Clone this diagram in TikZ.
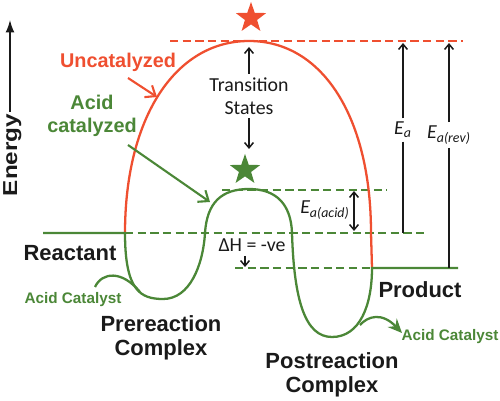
\documentclass[tikz,border=0pt]{standalone}
\usepackage{fontspec}
\usepackage{tikz}
\usetikzlibrary{shapes.geometric,arrows.meta}
\setmainfont{Carlito}
\newfontfamily\labelfont{Liberation Sans}
\newfontfamily\axisfont[FakeStretch=1.2]{Liberation Sans}
\definecolor{ucred}{HTML}{EF4F30}
\definecolor{acgreen}{HTML}{4B8737}
\definecolor{txtblack}{HTML}{1A1A1A}

\begin{document}
\begin{tikzpicture}[x=0.02cm,y=-0.02cm,
    curve/.style={line width=1.3pt},
    level/.style={line width=1.1pt,dash pattern=on 4.7pt off 2.5pt},
    big/.style={font=\labelfont\bfseries\fontsize{12.5}{13.6}\selectfont,txtblack,align=center},
    tag/.style={font=\labelfont\bfseries\fontsize{11.3}{13}\selectfont,align=center},
    small/.style={font=\labelfont\bfseries\fontsize{8.7}{10}\selectfont,acgreen},
    note/.style={font=\fontsize{11.3}{13}\selectfont,txtblack,align=center,inner sep=2pt},
    gauge/.style={line width=0.85pt,txtblack},
    pointer/.style={line width=1.2pt,-{Straight Barb[length=5pt,width=8pt]}},
    tsstar/.style={star,star points=5,star point ratio=2.5,minimum size=0.64cm,inner sep=0pt}]
  \useasboundingbox (0,0) rectangle (500,401);

  % Energy axis
  \node[txtblack,rotate=90,anchor=base,font=\axisfont\bfseries\fontsize{11.5}{13}\selectfont] (energy) at (17,155) {Energy};
  \coordinate (axtop) at (10,20);
  \draw[gauge,-{Latex[length=7pt,width=5pt]}] (10,112) -- (axtop);

  % Energy levels
  \draw[level,ucred] (170,41) -- (463,41);
  \draw[level,acgreen] (222,190) -- (387,190);
  \draw[level,acgreen] (125,233) -- (428,233);
  \draw[level,acgreen] (235,268) -- (372,268);

  % Uncatalyzed path
  \draw[curve,ucred] (125,233) .. controls (125,118) and (175,41) .. (249,41)
    .. controls (323,41) and (371,118) .. (371,233) -- (372,268);

  % Acid catalyzed path
  \draw[curve,acgreen] (43,233) -- (125,233)
    .. controls (125,290) and (140,299) .. (163,299)
    .. controls (190,299) and (203,265) .. (205,233)
    .. controls (207,202) and (222,189) .. (249,189)
    .. controls (276,189) and (291,204) .. (292,233)
    .. controls (294,300) and (305,337) .. (332,337)
    .. controls (360,337) and (372,305) .. (372,268) -- (458,268);

  % Acid catalyst in and out
  \coordinate (catin) at (95,287);
  \coordinate (catout) at (402,333);
  \draw[curve,acgreen] (catin) .. controls (102,272) and (122,270) .. (140,292);
  \draw[curve,acgreen,-{Stealth[length=8pt,width=7pt]}] (360,325)
    .. controls (368,316) and (382,312) .. (catout);

  % Transition states
  \node[tsstar,fill=ucred] (tsred) at (251,18) {};
  \node[tsstar,fill=acgreen] (tsgreen) at (245,170) {};
  \node[note] (ts) at (249,96) {Transition\\States};
  \coordinate (tsup) at (249,47);
  \coordinate (tsdown) at (249,149);
  \draw[gauge,-{Straight Barb[length=3pt,width=5pt]}] (ts.north) -- (tsup);
  \draw[gauge,-{Straight Barb[length=3pt,width=5pt]}] (ts.south) -- (tsdown);

  % Activation energies
  \node[note,font=\itshape\fontsize{11.3}{13}\selectfont] (ea) at (403,130) {E\textsubscript{a}};
  \coordinate (eatop) at (403,43);
  \coordinate (eabot) at (403,233);
  \draw[gauge,-{Straight Barb[length=3pt,width=5pt]}] (ea.north) -- (eatop);
  \draw[gauge] (ea.south) -- (eabot);

  \node[note,font=\itshape\fontsize{11.3}{13}\selectfont] (earev) at (449,135) {E\textsubscript{a(rev)}};
  \coordinate (eartop) at (449,43);
  \coordinate (earbot) at (449,268);
  \draw[gauge,-{Straight Barb[length=3pt,width=5pt]}] (earev.north) -- (eartop);
  \draw[gauge] (earev.south) -- (earbot);

  \node[note,font=\itshape\fontsize{11.3}{13}\selectfont] (eaacid) at (325,210) {E\textsubscript{a(acid)}};
  \coordinate (acidtop) at (354,191);
  \coordinate (acidbot) at (354,231);
  \draw[gauge,{Straight Barb[length=3pt,width=5pt]}-{Straight Barb[length=3pt,width=5pt]}] (acidtop) -- (acidbot);

  \node[note] (dh) at (252,245) {ΔH = -ve};
  \coordinate (dhfoot) at (245,256);
  \coordinate (dhtip) at (245,267);
  \draw[gauge,-{Straight Barb[length=3pt,width=5pt]}] (dhfoot) -- (dhtip);

  % Path labels
  \node[tag,ucred] (uncat) at (118,62) {Uncatalyzed};
  \coordinate (uncatfoot) at (128,78);
  \coordinate (uncattip) at (157,97);
  \draw[pointer,ucred] (uncatfoot) -- (uncattip);

  \node[tag,acgreen] (acid) at (92,116) {Acid\\catalyzed};
  \coordinate (acidfoot) at (128,145);
  \coordinate (acidtip) at (210,202);
  \draw[pointer,acgreen] (acidfoot) -- (acidtip);

  % Species
  \node[big] (reactant) at (70,253) {Reactant};
  \node[big] (product) at (420,290) {Product};
  \node[big] (prec) at (161,338) {Prereaction\\Complex};
  \node[big] (postc) at (332,375) {Postreaction\\Complex};
  \node[small] (catleft) at (73,300) {Acid Catalyst};
  \node[small] (catright) at (450,337) {Acid Catalyst};
\end{tikzpicture}
\end{document}
